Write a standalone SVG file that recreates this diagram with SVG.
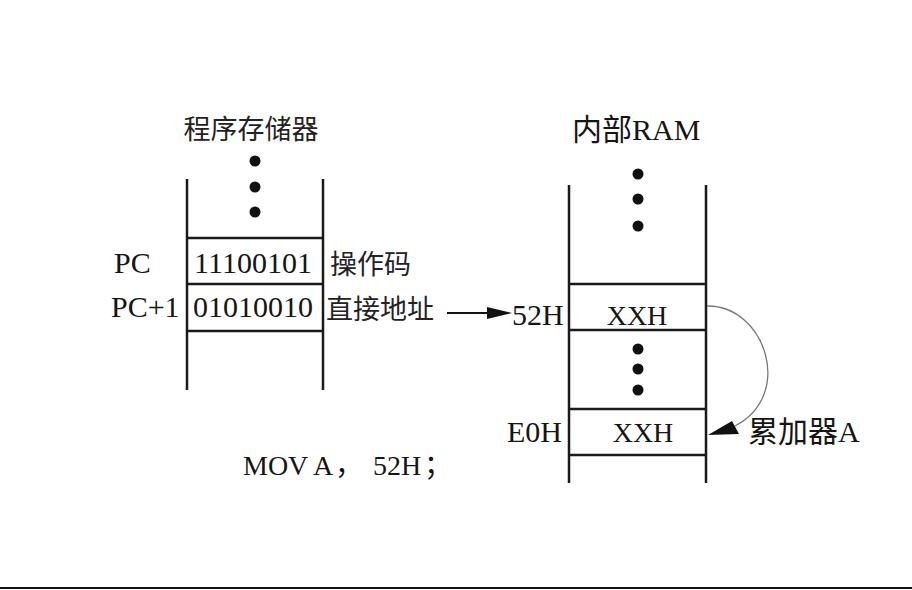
<svg xmlns="http://www.w3.org/2000/svg" width="912" height="590" viewBox="0 0 912 590">
<style>
  .t { font-family: "Liberation Serif", "Noto Sans CJK SC", serif; font-size: 30px; fill: #151515; }
  .x { font-size: 28px; }
  .c { font-family: "Noto Sans CJK SC", "Liberation Serif", sans-serif; font-size: 27px; fill: #222; }
  .wall { stroke: #1a1a1a; stroke-width: 2.5; fill: none; }
  .row { stroke: #1a1a1a; stroke-width: 2.5; fill: none; }
  .dot { fill: #111; }
</style>
<rect width="912" height="590" fill="#fff"/>

<g id="program-memory">
  <text class="c" x="251" y="139" text-anchor="middle">程序存储器</text>
  <circle class="dot" cx="255" cy="161" r="5.5"/>
  <circle class="dot" cx="255" cy="187" r="5.5"/>
  <circle class="dot" cx="255" cy="212" r="5.5"/>
  <line class="wall" x1="187" y1="179" x2="187" y2="390"/>
  <line class="wall" x1="323" y1="179" x2="323" y2="390"/>
  <line class="row" x1="187" y1="238" x2="323" y2="238"/>
  <line class="row" x1="187" y1="284" x2="323" y2="284"/>
  <line class="row" x1="187" y1="331" x2="323" y2="331"/>
</g>

<g id="pc-cell">
  <text class="t" x="114" y="273">PC</text>
  <text class="t" x="253" y="273" text-anchor="middle">11100101</text>
  <text class="c" x="330" y="274">操作码</text>
</g>

<g id="pc1-cell">
  <text class="t" x="111" y="317">PC+1</text>
  <text class="t" x="253" y="317" text-anchor="middle">01010010</text>
  <text class="c" x="326" y="319">直接地址</text>
</g>

<g id="internal-ram">
  <text class="t" x="572" y="140">内部RAM</text>
  <circle class="dot" cx="638" cy="174" r="5.5"/>
  <circle class="dot" cx="638" cy="199" r="5.5"/>
  <circle class="dot" cx="638" cy="226" r="5.5"/>
  <line class="wall" x1="569" y1="185" x2="569" y2="483"/>
  <line class="wall" x1="706" y1="185" x2="706" y2="483"/>
  <line class="row" x1="569" y1="284" x2="706" y2="284"/>
  <line class="row" x1="569" y1="330" x2="706" y2="330"/>
  <line class="row" x1="569" y1="409" x2="706" y2="409"/>
  <line class="row" x1="569" y1="455" x2="706" y2="455"/>
  <circle class="dot" cx="638" cy="349" r="5.5"/>
  <circle class="dot" cx="638" cy="369" r="5.5"/>
  <circle class="dot" cx="638" cy="390" r="5.5"/>
</g>

<g id="ram-52h">
  <text class="t" x="512" y="325">52H</text>
  <text class="t x" x="637" y="325" text-anchor="middle">XXH</text>
</g>

<g id="ram-e0h">
  <text class="t" x="507" y="442">E0H</text>
  <text class="t x" x="643" y="442" text-anchor="middle">XXH</text>
  <text class="t" x="748" y="442">累加器A</text>
</g>

<g id="instruction">
  <text class="t x" y="475"><tspan x="243">MOV</tspan><tspan x="313">A</tspan><tspan x="335">，</tspan><tspan x="373">52H</tspan><tspan x="424">；</tspan></text>
</g>

<g id="connectors">
  <line x1="447" y1="313" x2="492" y2="313" stroke="#111" stroke-width="2"/>
  <polygon points="487,307 512,313 487,319" fill="#111"/>
  <path d="M707,306 C765,305 795,395 735,426" fill="none" stroke="#777" stroke-width="1.3"/>
  <polygon points="708,435 732,421 739,434" fill="#111"/>
</g>

<line x1="0" y1="588" x2="912" y2="588" stroke="#111" stroke-width="2.2"/>
</svg>
